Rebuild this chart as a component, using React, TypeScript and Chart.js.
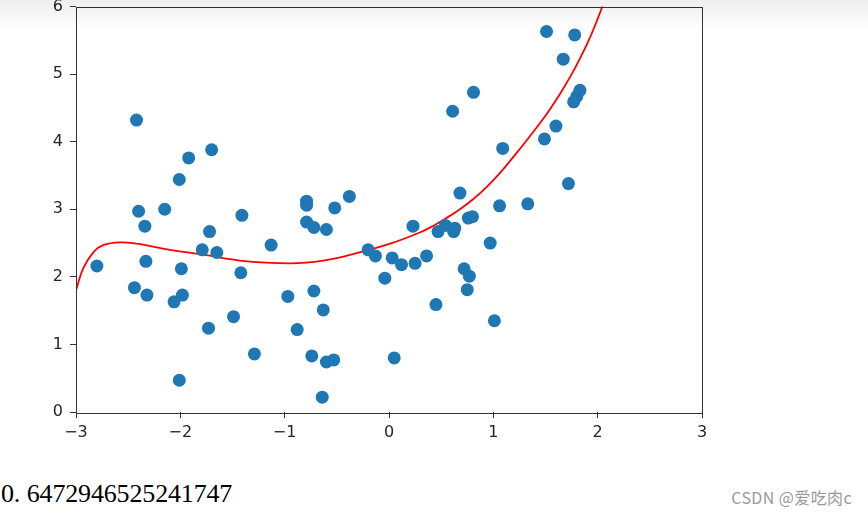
import React, { useEffect, useRef } from "react";
import { Chart, registerables } from "chart.js";

Chart.register(...registerables);

const scatterX = [
  -2.8, -2.42, -2.4, -2.34, -2.33, -2.44, -2.32, -2.15, -2.01, -1.92, -1.7, -1.99, -2.06, -1.98, -2.01,
  -1.79, -1.72, -1.65, -1.73, -1.41, -1.42, -1.49, -1.29, -1.13, -0.97, -0.88, -0.79, -0.79, -0.79, -0.72,
  -0.72, -0.74, -0.6, -0.63, -0.64, -0.6, -0.53, -0.52, -0.38, -0.2, -0.13, -0.04, 0.03, 0.05, 0.12,
  0.23, 0.25, 0.36, 0.45, 0.47, 0.54, 0.61, 0.62, 0.63, 0.68, 0.72, 0.77, 0.75, 0.76, 0.81,
  0.8, 0.97, 1.01, 1.06, 1.09, 1.33, 1.49, 1.51, 1.6, 1.67, 1.72, 1.78, 1.77, 1.8, 1.83,
];
const scatterY = [
  2.16, 4.32, 2.97, 2.75, 2.23, 1.84, 1.73, 3.0, 3.44, 3.76, 3.88, 2.12, 1.63, 1.73, 0.47,
  2.4, 2.67, 2.36, 1.24, 2.91, 2.06, 1.41, 0.86, 2.47, 1.71, 1.22, 3.12, 3.06, 2.81, 2.73,
  1.79, 0.83, 2.7, 1.51, 0.22, 0.74, 0.77, 3.02, 3.19, 2.4, 2.31, 1.98, 2.28, 0.8, 2.18,
  2.75, 2.2, 2.31, 1.59, 2.67, 2.76, 4.45, 2.67, 2.72, 3.24, 2.12, 2.01, 1.81, 2.87, 4.73,
  2.89, 2.5, 1.35, 3.05, 3.9, 3.08, 4.04, 5.63, 4.23, 5.22, 3.38, 5.58, 4.59, 4.67, 4.76,
];

const curveX = [
  -3.0, -2.93, -2.83, -2.74, -2.58, -2.42, -2.1, -1.78, -1.43, -0.95, -0.63, -0.31, 0.01, 0.3,
  0.43, 0.55, 0.67, 0.8, 0.93, 1.06, 1.2, 1.33, 1.45, 1.53, 1.64, 1.74, 1.82, 1.9, 1.97, 2.04, 2.12,
];
const curveY = [
  1.8, 2.13, 2.37, 2.47, 2.51, 2.49, 2.4, 2.33, 2.24, 2.2, 2.24, 2.35, 2.49, 2.66,
  2.76, 2.87, 2.99, 3.14, 3.32, 3.53, 3.79, 4.04, 4.28, 4.45, 4.71, 4.97, 5.2, 5.45, 5.7, 5.98, 6.32,
];

const xTicks = [-3, -2, -1, 0, 1, 2, 3];
const yTicks = [0, 1, 2, 3, 4, 5, 6];
const scoreText = "0.6472946525241747";
const watermark = "CSDN @爱吃肉c";

const W = 868;
const CH = 445;
const PLOT_LEFT = 76;
const PLOT_RIGHT = 702;
const PLOT_TOP = 3;
const PLOT_BOTTOM = 412;

const frame = {
  id: "frame",
  afterDraw(chart: any) {
    const { ctx, chartArea: a } = chart;
    ctx.save();
    ctx.strokeStyle = "#333";
    ctx.lineWidth = 1;
    ctx.strokeRect(Math.round(a.left) + 0.5, Math.round(a.top) + 0.5, Math.round(a.right - a.left), Math.round(a.bottom - a.top));
    ctx.restore();
  },
};

const minus = (v: number) => String(v).replace("-", "\u2212");

export default function App() {
  const ref = useRef<HTMLCanvasElement | null>(null);
  useEffect(() => {
    document.body.style.margin = "0";
    const pts = scatterX.map((x, i) => ({ x, y: scatterY[i] }));
    const curve = curveX.map((x, i) => ({ x, y: curveY[i] }));
    const font = { family: "DejaVu Sans", size: 16 };
    const chart = new Chart(ref.current as HTMLCanvasElement, {
      type: "scatter",
      data: {
        datasets: [
          {
            data: pts,
            backgroundColor: "#1f77b4",
            borderWidth: 0,
            pointRadius: 6.5,
            pointHoverRadius: 6.5,
            order: 0,
          } as any,
          {
            data: curve,
            showLine: true,
            borderColor: "#ff0000",
            borderWidth: 1.8,
            pointRadius: 0,
            tension: 0.4,
            order: 1,
          } as any,
        ],
      },
      options: {
        animation: false,
        responsive: false,
        events: [],
        layout: { padding: { left: 0, right: W - PLOT_RIGHT, top: PLOT_TOP, bottom: 0 } },
        plugins: { legend: { display: false }, tooltip: { enabled: false } },
        scales: {
          x: {
            type: "linear",
            min: -3,
            max: 3,
            afterBuildTicks: (s: any) => {
              s.ticks = xTicks.map((v) => ({ value: v }));
            },
            afterFit: (s: any) => {
              s.height = CH - PLOT_BOTTOM;
              s.paddingLeft = 0;
              s.paddingRight = 0;
            },
            border: { display: false },
            grid: { drawOnChartArea: false, drawTicks: true, tickLength: 6, color: "#333" },
            ticks: { color: "#262626", font, padding: 5, maxRotation: 0, autoSkip: false, callback: (v: any) => minus(v) },
          },
          y: {
            type: "linear",
            min: 0,
            max: 6,
            afterBuildTicks: (s: any) => {
              s.ticks = yTicks.map((v) => ({ value: v }));
            },
            afterFit: (s: any) => {
              s.width = PLOT_LEFT;
              s.paddingTop = 0;
              s.paddingBottom = 0;
            },
            border: { display: false },
            grid: { drawOnChartArea: false, drawTicks: true, tickLength: 6, color: "#333" },
            ticks: { color: "#262626", font, padding: 7, autoSkip: false, callback: (v: any) => minus(v) },
          },
        },
      },
      plugins: [frame],
    });
    return () => chart.destroy();
  }, []);

  return (
    <div style={{ position: "fixed", left: 0, top: 0, width: W, height: 521, background: "#fff", overflow: "hidden" }}>
      <canvas ref={ref} width={W} height={CH} style={{ position: "absolute", left: 0, top: 0, width: W, height: CH }} />
      <div
        style={{
          position: "absolute",
          left: 0,
          top: 0,
          width: W,
          height: 30,
          background: "linear-gradient(rgba(0,0,0,0.065), rgba(0,0,0,0))",
          pointerEvents: "none",
        }}
      />
      <div
        style={{
          position: "absolute",
          left: 1,
          top: 481,
          fontFamily: "'Liberation Serif', serif",
          fontSize: 26,
          lineHeight: "26px",
          color: "#000",
          whiteSpace: "nowrap",
        }}
      >
        {scoreText.split("").map((c, i) => (
          <span key={i} style={{ display: "inline-block", width: 12.85, textAlign: c === "." ? "left" : "center" }}>
            {c}
          </span>
        ))}
      </div>
      <div
        style={{
          position: "absolute",
          right: 16,
          top: 486,
          fontFamily: "'Noto Sans CJK SC', 'Noto Sans', sans-serif",
          fontSize: 16,
          letterSpacing: 0.4,
          lineHeight: "22px",
          color: "#999",
          whiteSpace: "nowrap",
        }}
      >
        {watermark}
      </div>
    </div>
  );
}
